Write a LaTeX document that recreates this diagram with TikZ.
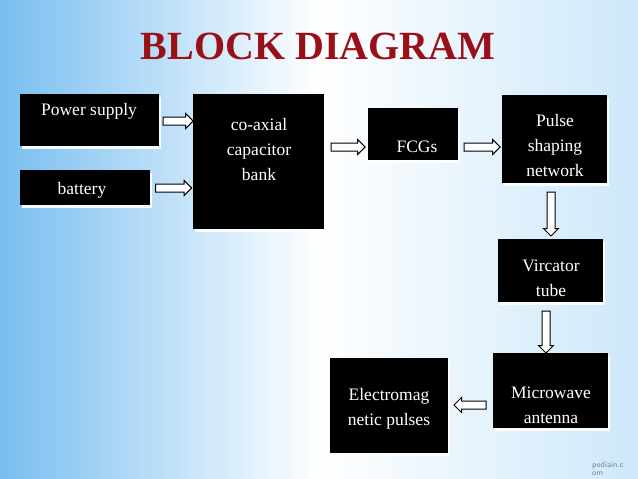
\documentclass[tikz,border=0pt]{standalone}
\usepackage{fontspec}
\setmainfont{Liberation Serif}
\usetikzlibrary{shapes.arrows,shadows,calc}
\definecolor{titlered}{HTML}{9A1018}
\begin{document}
\begin{tikzpicture}[x=1pt,y=-1pt,
  box/.style={fill=black,draw=none,anchor=north west,inner sep=0,drop shadow={shadow xshift=1.5pt,shadow yshift=-2.5pt,fill=white,opacity=0.9}},
  txt/.style={text=white,font=\fontsize{17.5}{25}\selectfont,align=center,inner sep=0},
  arr/.style={single arrow,draw=black,fill=white,line width=1pt,minimum height=#1,inner xsep=0,inner ysep=3.5pt,single arrow head extend=3.5pt,single arrow head indent=0},
  varr/.style={arr=#1,shape border rotate=270,inner xsep=3.5pt,inner ysep=0},
]
\useasboundingbox (0,0) rectangle (638,479);
\shade[left color={rgb,255:red,120;green,190;blue,240},right color={rgb,255:red,205;green,232;blue,250},middle color=white] (0,0) rectangle (638,479);
\node[font=\bfseries\fontsize{40}{40}\selectfont,text=titlered] (title) at (318,46) {BLOCK DIAGRAM};
% boxes
\node[box,minimum width=139,minimum height=52] (ps) at (20,94) {};
\node[box,minimum width=130,minimum height=35] (bat) at (20,170) {};
\node[box,minimum width=131,minimum height=135] (cap) at (193,94) {};
\node[box,minimum width=90,minimum height=52] (fcg) at (368,108) {};
\node[box,minimum width=105,minimum height=88] (psn) at (502,95) {};
\node[box,minimum width=105,minimum height=63] (vir) at (498,239) {};
\node[box,minimum width=115,minimum height=75] (mw) at (493,353) {};
\node[box,minimum width=118,minimum height=95] (em) at (330,358) {};
% texts
\node[txt] (tps) at (89,111) {Power supply};
\node[txt] (tbat) at (82,190) {battery};
\node[txt] (tcap) at (259,150) {co-axial\\capacitor\\bank};
\node[txt] (tfcg) at (417,147) {FCGs};
\node[txt] (tpsn) at (555,146) {Pulse\\shaping\\network};
\node[txt] (tvir) at (551,278) {Vircator\\tube};
\node[txt] (tmw) at (551,405) {Microwave\\antenna};
\node[txt] (tem) at (389,409) {Electromag\\netic pulses};
% arrows
\node[arr=30] (a1) at ($(ps.east |- 0,121)!0.5!(cap.west |- 0,121)$) {};
\node[arr=36] (a2) at ($(bat.east |- 0,188)!0.5!(cap.west |- 0,188)$) {};
\node[arr=34] (a3) at ($(cap.east |- 0,147)!0.5!(fcg.west |- 0,147)$) {};
\node[arr=36] (a4) at ($(fcg.east |- 0,147)!0.5!(psn.west |- 0,147)$) {};
\node[varr=44] (a5) at (551,212) {};
\node[varr=42] (a6) at (546,330) {};
\node[arr=32,shape border rotate=180] (a7) at (472,405) {};
\node[text=gray,font=\sffamily\fontsize{8}{8}\selectfont,align=left,anchor=north west,inner sep=0] (wm) at (592,462) {pediain.c\\om};
\end{tikzpicture}
\end{document}
